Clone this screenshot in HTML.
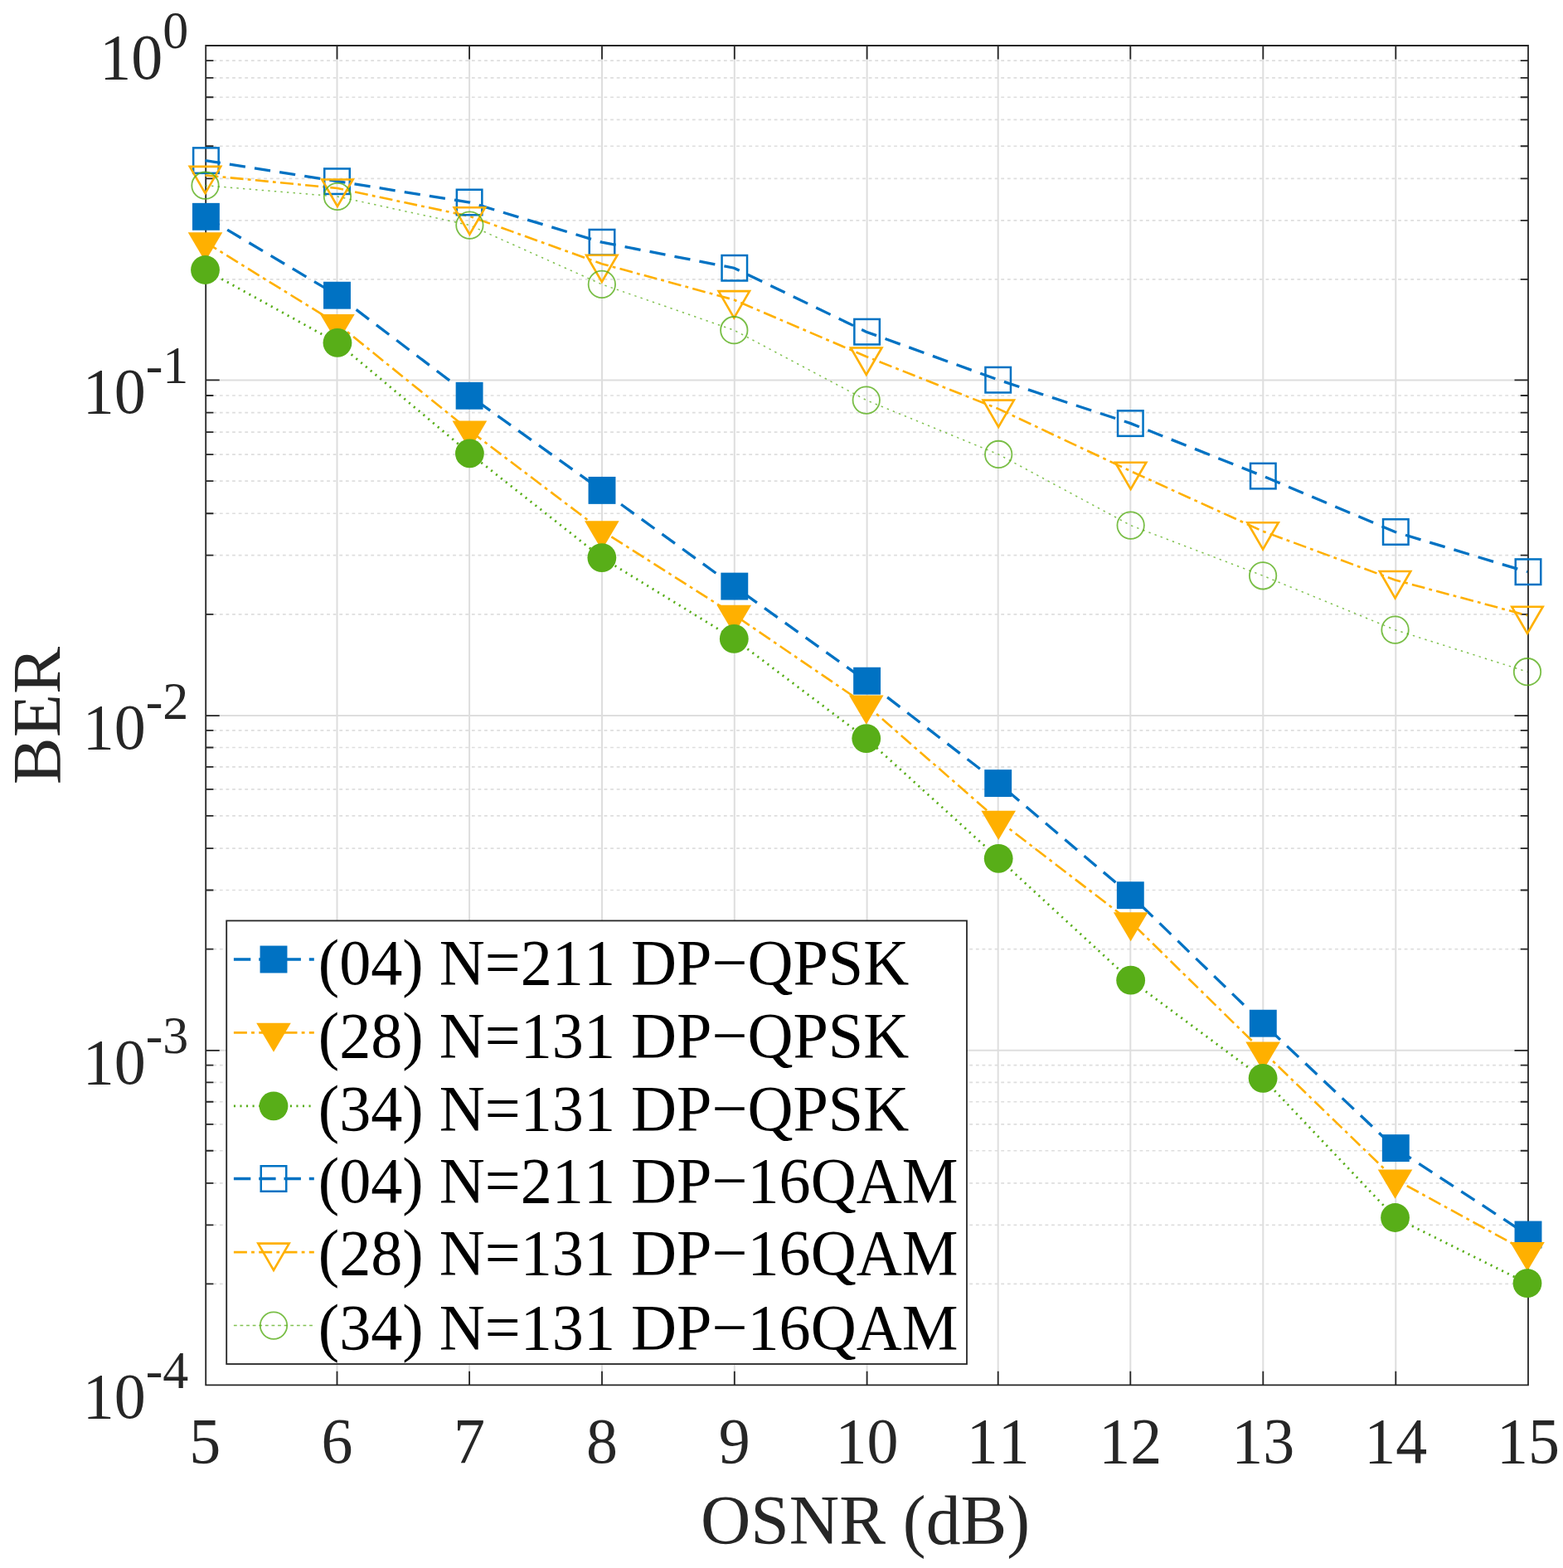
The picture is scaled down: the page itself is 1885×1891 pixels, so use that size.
<!DOCTYPE html>
<html lang="en"><head><meta charset="utf-8"><title>BER vs OSNR</title>
<style>html,body{margin:0;padding:0;background:#fff}body{width:1885px;height:1891px;overflow:hidden}svg{display:block}text{font-kerning:none}</style></head>
<body>
<svg width="1885" height="1891" viewBox="0 0 1885 1891">
<rect width="1885" height="1891" fill="#fff"/>
<g fill="none">
<path d="M248.2 336.97H1843 M248.2 265.85H1843 M248.2 215.4H1843 M248.2 176.26H1843 M248.2 144.29H1843 M248.2 117.25H1843 M248.2 93.84H1843 M248.2 73.18H1843 M248.2 740.8H1843 M248.2 669.68H1843 M248.2 619.23H1843 M248.2 580.09H1843 M248.2 548.12H1843 M248.2 521.08H1843 M248.2 497.67H1843 M248.2 477.01H1843 M248.2 1144.63H1843 M248.2 1073.51H1843 M248.2 1023.06H1843 M248.2 983.92H1843 M248.2 951.95H1843 M248.2 924.91H1843 M248.2 901.5H1843 M248.2 880.84H1843 M248.2 1548.46H1843 M248.2 1477.34H1843 M248.2 1426.89H1843 M248.2 1387.75H1843 M248.2 1355.78H1843 M248.2 1328.74H1843 M248.2 1305.33H1843 M248.2 1284.67H1843" stroke="#dedede" stroke-width="1.7" stroke-dasharray="3.8 3.8" stroke-dashoffset="-1.5"/>
<path d="M248.2 458.4H1843 M248.2 863.1H1843 M248.2 1266.8H1843 M406.5 55V1670.3 M566.1 55V1670.3 M726 55V1670.3 M885.8 55V1670.3 M1045.6 55V1670.3 M1203.7 55V1670.3 M1363.3 55V1670.3 M1523.3 55V1670.3 M1683.3 55V1670.3" stroke="#dedede" stroke-width="2"/>
</g>
<path d="M248.2 55H1843V1670.3H248.2Z M406.5 1670.3v-16.5 M406.5 55v16.5 M566.1 1670.3v-16.5 M566.1 55v16.5 M726 1670.3v-16.5 M726 55v16.5 M885.8 1670.3v-16.5 M885.8 55v16.5 M1045.6 1670.3v-16.5 M1045.6 55v16.5 M1203.7 1670.3v-16.5 M1203.7 55v16.5 M1363.3 1670.3v-16.5 M1363.3 55v16.5 M1523.3 1670.3v-16.5 M1523.3 55v16.5 M1683.3 1670.3v-16.5 M1683.3 55v16.5 M248.2 458.4h16.5 M1843 458.4h-16.5 M248.2 863.1h16.5 M1843 863.1h-16.5 M248.2 1266.8h16.5 M1843 1266.8h-16.5 M248.2 336.97h9.2 M1843 336.97h-9.2 M248.2 265.85h9.2 M1843 265.85h-9.2 M248.2 215.4h9.2 M1843 215.4h-9.2 M248.2 176.26h9.2 M1843 176.26h-9.2 M248.2 144.29h9.2 M1843 144.29h-9.2 M248.2 117.25h9.2 M1843 117.25h-9.2 M248.2 93.84h9.2 M1843 93.84h-9.2 M248.2 73.18h9.2 M1843 73.18h-9.2 M248.2 740.8h9.2 M1843 740.8h-9.2 M248.2 669.68h9.2 M1843 669.68h-9.2 M248.2 619.23h9.2 M1843 619.23h-9.2 M248.2 580.09h9.2 M1843 580.09h-9.2 M248.2 548.12h9.2 M1843 548.12h-9.2 M248.2 521.08h9.2 M1843 521.08h-9.2 M248.2 497.67h9.2 M1843 497.67h-9.2 M248.2 477.01h9.2 M1843 477.01h-9.2 M248.2 1144.63h9.2 M1843 1144.63h-9.2 M248.2 1073.51h9.2 M1843 1073.51h-9.2 M248.2 1023.06h9.2 M1843 1023.06h-9.2 M248.2 983.92h9.2 M1843 983.92h-9.2 M248.2 951.95h9.2 M1843 951.95h-9.2 M248.2 924.91h9.2 M1843 924.91h-9.2 M248.2 901.5h9.2 M1843 901.5h-9.2 M248.2 880.84h9.2 M1843 880.84h-9.2 M248.2 1548.46h9.2 M1843 1548.46h-9.2 M248.2 1477.34h9.2 M1843 1477.34h-9.2 M248.2 1426.89h9.2 M1843 1426.89h-9.2 M248.2 1387.75h9.2 M1843 1387.75h-9.2 M248.2 1355.78h9.2 M1843 1355.78h-9.2 M248.2 1328.74h9.2 M1843 1328.74h-9.2 M248.2 1305.33h9.2 M1843 1305.33h-9.2 M248.2 1284.67h9.2 M1843 1284.67h-9.2" fill="none" stroke="#262626" stroke-width="1.8" stroke-linejoin="miter"/>
<polyline points="247.5,261.3 406.95,356.2 566.4,477.3 725.85,591.4 885.3,707.1 1044.75,821.2 1204.2,944.6 1363.65,1079.7 1523.1,1234.2 1682.55,1384.6 1842,1489" fill="none" stroke="#0072C3" stroke-width="3.3" stroke-dasharray="19.3 11.2" stroke-dashoffset="-0.5"/>
<polyline points="247.5,292 406.95,390.6 566.4,519.3 725.85,640 885.3,741.4 1044.75,850.3 1204.2,989.5 1363.65,1111.9 1523.1,1268.1 1682.55,1422.3 1842,1509.6" fill="none" stroke="#FFB000" stroke-width="2.6" stroke-dasharray="16 5.2 3.8 5.3"/>
<polyline points="247.5,325.5 406.95,413.4 566.4,546.8 725.85,672.6 885.3,770.4 1044.75,890.6 1204.2,1035.3 1363.65,1182.2 1523.1,1300.4 1682.55,1468.5 1842,1547.6" fill="none" stroke="#58AE18" stroke-width="2.8" stroke-dasharray="2.1 5.45"/>
<polyline points="247.5,193.6 406.95,218.7 566.4,244 725.85,292.2 885.3,323.25 1044.75,400.2 1204.2,458.2 1363.65,510.6 1523.1,574.1 1682.55,641.5 1842,689.7" fill="none" stroke="#0072C3" stroke-width="3.3" stroke-dasharray="19.3 11.2" stroke-dashoffset="0.8"/>
<polyline points="247.5,211.4 406.95,227 566.4,260.8 725.85,318.2 885.3,361.6 1044.75,430 1204.2,493.1 1363.65,568.2 1523.1,640.7 1682.55,699.5 1842,742.2" fill="none" stroke="#FFB000" stroke-width="2.6" stroke-dasharray="16 5.2 3.8 5.3"/>
<polyline points="247.5,223.7 406.95,237 566.4,271.6 725.85,342.9 885.3,398.2 1044.75,482.6 1204.2,547.95 1363.65,633.6 1523.1,694.3 1682.55,759.6 1842,810.2" fill="none" stroke="#58AE18" stroke-width="1.5" stroke-dasharray="2.4 5.2" stroke-opacity="0.75"/>
<g><rect x="231.95" y="244.85" width="32.9" height="32.9" fill="#0072C3"/><rect x="390.05" y="339.75" width="32.9" height="32.9" fill="#0072C3"/><rect x="549.65" y="460.85" width="32.9" height="32.9" fill="#0072C3"/><rect x="709.55" y="574.95" width="32.9" height="32.9" fill="#0072C3"/><rect x="869.35" y="690.65" width="32.9" height="32.9" fill="#0072C3"/><rect x="1029.15" y="804.75" width="32.9" height="32.9" fill="#0072C3"/><rect x="1187.25" y="928.15" width="32.9" height="32.9" fill="#0072C3"/><rect x="1346.85" y="1063.25" width="32.9" height="32.9" fill="#0072C3"/><rect x="1506.85" y="1217.75" width="32.9" height="32.9" fill="#0072C3"/><rect x="1666.85" y="1368.15" width="32.9" height="32.9" fill="#0072C3"/><rect x="1826.55" y="1472.55" width="32.9" height="32.9" fill="#0072C3"/></g>
<g><polygon points="226.7,280.3 268.3,280.3 247.5,315.4" fill="#FFB000"/><polygon points="386.15,378.9 427.75,378.9 406.95,414" fill="#FFB000"/><polygon points="545.6,507.6 587.2,507.6 566.4,542.7" fill="#FFB000"/><polygon points="705.05,628.3 746.65,628.3 725.85,663.4" fill="#FFB000"/><polygon points="864.5,729.7 906.1,729.7 885.3,764.8" fill="#FFB000"/><polygon points="1023.95,838.6 1065.55,838.6 1044.75,873.7" fill="#FFB000"/><polygon points="1183.4,977.8 1225,977.8 1204.2,1012.9" fill="#FFB000"/><polygon points="1342.85,1100.2 1384.45,1100.2 1363.65,1135.3" fill="#FFB000"/><polygon points="1502.3,1256.4 1543.9,1256.4 1523.1,1291.5" fill="#FFB000"/><polygon points="1661.75,1410.6 1703.35,1410.6 1682.55,1445.7" fill="#FFB000"/><polygon points="1821.2,1497.9 1862.8,1497.9 1842,1533" fill="#FFB000"/></g>
<g><circle cx="247.5" cy="325.5" r="17.4" fill="#58AE18"/><circle cx="406.95" cy="413.4" r="17.4" fill="#58AE18"/><circle cx="566.4" cy="546.8" r="17.4" fill="#58AE18"/><circle cx="725.85" cy="672.6" r="17.4" fill="#58AE18"/><circle cx="885.3" cy="770.4" r="17.4" fill="#58AE18"/><circle cx="1044.75" cy="890.6" r="17.4" fill="#58AE18"/><circle cx="1204.2" cy="1035.3" r="17.4" fill="#58AE18"/><circle cx="1363.65" cy="1182.2" r="17.4" fill="#58AE18"/><circle cx="1523.1" cy="1300.4" r="17.4" fill="#58AE18"/><circle cx="1682.55" cy="1468.5" r="17.4" fill="#58AE18"/><circle cx="1842" cy="1547.6" r="17.4" fill="#58AE18"/></g>
<g><rect x="233.15" y="178.35" width="30.5" height="30.5" fill="none" stroke="#0072C3" stroke-width="2.5"/><rect x="391.25" y="203.45" width="30.5" height="30.5" fill="none" stroke="#0072C3" stroke-width="2.5"/><rect x="550.85" y="228.75" width="30.5" height="30.5" fill="none" stroke="#0072C3" stroke-width="2.5"/><rect x="710.75" y="276.95" width="30.5" height="30.5" fill="none" stroke="#0072C3" stroke-width="2.5"/><rect x="870.55" y="308" width="30.5" height="30.5" fill="none" stroke="#0072C3" stroke-width="2.5"/><rect x="1030.35" y="384.95" width="30.5" height="30.5" fill="none" stroke="#0072C3" stroke-width="2.5"/><rect x="1188.45" y="442.95" width="30.5" height="30.5" fill="none" stroke="#0072C3" stroke-width="2.5"/><rect x="1348.05" y="495.35" width="30.5" height="30.5" fill="none" stroke="#0072C3" stroke-width="2.5"/><rect x="1508.05" y="558.85" width="30.5" height="30.5" fill="none" stroke="#0072C3" stroke-width="2.5"/><rect x="1668.05" y="626.25" width="30.5" height="30.5" fill="none" stroke="#0072C3" stroke-width="2.5"/><rect x="1827.75" y="674.45" width="30.5" height="30.5" fill="none" stroke="#0072C3" stroke-width="2.5"/></g>
<g><polygon points="228.8,200.9 266.2,200.9 247.5,233.2" fill="none" stroke="#FFB000" stroke-width="2.6" stroke-linejoin="miter"/><polygon points="388.25,216.5 425.65,216.5 406.95,248.8" fill="none" stroke="#FFB000" stroke-width="2.6" stroke-linejoin="miter"/><polygon points="547.7,250.3 585.1,250.3 566.4,282.6" fill="none" stroke="#FFB000" stroke-width="2.6" stroke-linejoin="miter"/><polygon points="707.15,307.7 744.55,307.7 725.85,340" fill="none" stroke="#FFB000" stroke-width="2.6" stroke-linejoin="miter"/><polygon points="866.6,351.1 904,351.1 885.3,383.4" fill="none" stroke="#FFB000" stroke-width="2.6" stroke-linejoin="miter"/><polygon points="1026.05,419.5 1063.45,419.5 1044.75,451.8" fill="none" stroke="#FFB000" stroke-width="2.6" stroke-linejoin="miter"/><polygon points="1185.5,482.6 1222.9,482.6 1204.2,514.9" fill="none" stroke="#FFB000" stroke-width="2.6" stroke-linejoin="miter"/><polygon points="1344.95,557.7 1382.35,557.7 1363.65,590" fill="none" stroke="#FFB000" stroke-width="2.6" stroke-linejoin="miter"/><polygon points="1504.4,630.2 1541.8,630.2 1523.1,662.5" fill="none" stroke="#FFB000" stroke-width="2.6" stroke-linejoin="miter"/><polygon points="1663.85,689 1701.25,689 1682.55,721.3" fill="none" stroke="#FFB000" stroke-width="2.6" stroke-linejoin="miter"/><polygon points="1823.3,731.7 1860.7,731.7 1842,764" fill="none" stroke="#FFB000" stroke-width="2.6" stroke-linejoin="miter"/></g>
<g><circle cx="247.5" cy="223.7" r="16.2" fill="none" stroke="#58AE18" stroke-width="1.8" stroke-opacity="0.8"/><circle cx="406.95" cy="237" r="16.2" fill="none" stroke="#58AE18" stroke-width="1.8" stroke-opacity="0.8"/><circle cx="566.4" cy="271.6" r="16.2" fill="none" stroke="#58AE18" stroke-width="1.8" stroke-opacity="0.8"/><circle cx="725.85" cy="342.9" r="16.2" fill="none" stroke="#58AE18" stroke-width="1.8" stroke-opacity="0.8"/><circle cx="885.3" cy="398.2" r="16.2" fill="none" stroke="#58AE18" stroke-width="1.8" stroke-opacity="0.8"/><circle cx="1044.75" cy="482.6" r="16.2" fill="none" stroke="#58AE18" stroke-width="1.8" stroke-opacity="0.8"/><circle cx="1204.2" cy="547.95" r="16.2" fill="none" stroke="#58AE18" stroke-width="1.8" stroke-opacity="0.8"/><circle cx="1363.65" cy="633.6" r="16.2" fill="none" stroke="#58AE18" stroke-width="1.8" stroke-opacity="0.8"/><circle cx="1523.1" cy="694.3" r="16.2" fill="none" stroke="#58AE18" stroke-width="1.8" stroke-opacity="0.8"/><circle cx="1682.55" cy="759.6" r="16.2" fill="none" stroke="#58AE18" stroke-width="1.8" stroke-opacity="0.8"/><circle cx="1842" cy="810.2" r="16.2" fill="none" stroke="#58AE18" stroke-width="1.8" stroke-opacity="0.8"/></g>
<rect x="273.2" y="1110.4" width="892.8" height="534.6" fill="#fff" stroke="#262626" stroke-width="1.8"/>
<g font-family="'Liberation Serif', 'Times New Roman', serif" font-size="76.2" fill="#000">
<line x1="281.9" y1="1157" x2="378.8" y2="1157" stroke="#0072C3" stroke-width="3.3" stroke-dasharray="20.4 9.9"/>
<rect x="313.55" y="1140.55" width="32.9" height="32.9" fill="#0072C3"/>
<text transform="translate(383.8 1186.7) scale(1 1.02)" xml:space="preserve">(04) N=211 DP−QPSK</text>
<line x1="281.9" y1="1245.4" x2="378.8" y2="1245.4" stroke="#FFB000" stroke-width="2.6" stroke-dasharray="16 5.2 3.8 5.3"/>
<polygon points="309.2,1233.7 350.8,1233.7 330,1268.8" fill="#FFB000"/>
<text transform="translate(383.8 1274.7) scale(1 1.02)" xml:space="preserve">(28) N=131 DP−QPSK</text>
<line x1="281.9" y1="1333.9" x2="378.8" y2="1333.9" stroke="#58AE18" stroke-width="2.8" stroke-dasharray="2.1 5.45"/>
<circle cx="330" cy="1333.9" r="17.4" fill="#58AE18"/>
<text transform="translate(383.8 1363.1) scale(1 1.02)" xml:space="preserve">(34) N=131 DP−QPSK</text>
<line x1="281.9" y1="1421.5" x2="378.8" y2="1421.5" stroke="#0072C3" stroke-width="3.3" stroke-dasharray="20.4 9.9"/>
<rect x="314.75" y="1406.25" width="30.5" height="30.5" fill="none" stroke="#0072C3" stroke-width="2.5"/>
<text transform="translate(383.8 1450.3) scale(1 1.02)" xml:space="preserve">(04) N=211 DP−16QAM</text>
<line x1="281.9" y1="1510.1" x2="378.8" y2="1510.1" stroke="#FFB000" stroke-width="2.6" stroke-dasharray="16 5.2 3.8 5.3"/>
<polygon points="311.3,1499.6 348.7,1499.6 330,1531.9" fill="none" stroke="#FFB000" stroke-width="2.6" stroke-linejoin="miter"/>
<text transform="translate(383.8 1537) scale(1 1.02)" xml:space="preserve">(28) N=131 DP−16QAM</text>
<line x1="281.9" y1="1598.6" x2="378.8" y2="1598.6" stroke="#58AE18" stroke-width="1.5" stroke-dasharray="3.8 3.8" stroke-opacity="0.75"/>
<circle cx="330" cy="1598.6" r="16.2" fill="none" stroke="#58AE18" stroke-width="1.8" stroke-opacity="0.8"/>
<text transform="translate(383.8 1626.6) scale(1 1.02)" xml:space="preserve">(34) N=131 DP−16QAM</text>
</g>
<g font-family="'Liberation Serif', 'Times New Roman', serif" font-size="76.0" fill="#262626">
<text transform="translate(247.2 1763.5) scale(1 1.035)" text-anchor="middle">5</text>
<text transform="translate(406.5 1763.5) scale(1 1.035)" text-anchor="middle">6</text>
<text transform="translate(566.1 1763.5) scale(1 1.035)" text-anchor="middle">7</text>
<text transform="translate(726 1763.5) scale(1 1.035)" text-anchor="middle">8</text>
<text transform="translate(885.8 1763.5) scale(1 1.035)" text-anchor="middle">9</text>
<text transform="translate(1045.6 1763.5) scale(1 1.035)" text-anchor="middle">10</text>
<text transform="translate(1203.7 1763.5) scale(1 1.035)" text-anchor="middle">11</text>
<text transform="translate(1363.3 1763.5) scale(1 1.035)" text-anchor="middle">12</text>
<text transform="translate(1523.3 1763.5) scale(1 1.035)" text-anchor="middle">13</text>
<text transform="translate(1683.3 1763.5) scale(1 1.035)" text-anchor="middle">14</text>
<text transform="translate(1843 1763.5) scale(1 1.035)" text-anchor="middle">15</text>
<text transform="translate(227.3 94.7) scale(1 1.035)" text-anchor="end">10<tspan font-size="62.0" dy="-35">0</tspan></text>
<text transform="translate(227.3 498.1) scale(1 1.035)" text-anchor="end">10<tspan font-size="62.0" dy="-35">-1</tspan></text>
<text transform="translate(227.3 902.8) scale(1 1.035)" text-anchor="end">10<tspan font-size="62.0" dy="-35">-2</tspan></text>
<text transform="translate(227.3 1306.5) scale(1 1.035)" text-anchor="end">10<tspan font-size="62.0" dy="-35">-3</tspan></text>
<text transform="translate(227.3 1710) scale(1 1.035)" text-anchor="end">10<tspan font-size="62.0" dy="-35">-4</tspan></text>
</g>
<g font-family="'Liberation Serif', 'Times New Roman', serif" fill="#262626">
<text x="1043.5" y="1862.4" font-size="83.6" text-anchor="middle">OSNR (dB)</text>
<text transform="translate(72.1 946.3) rotate(-90) scale(1.028 1)" font-size="83.2">BER</text>
</g>
</svg>
</body></html>
